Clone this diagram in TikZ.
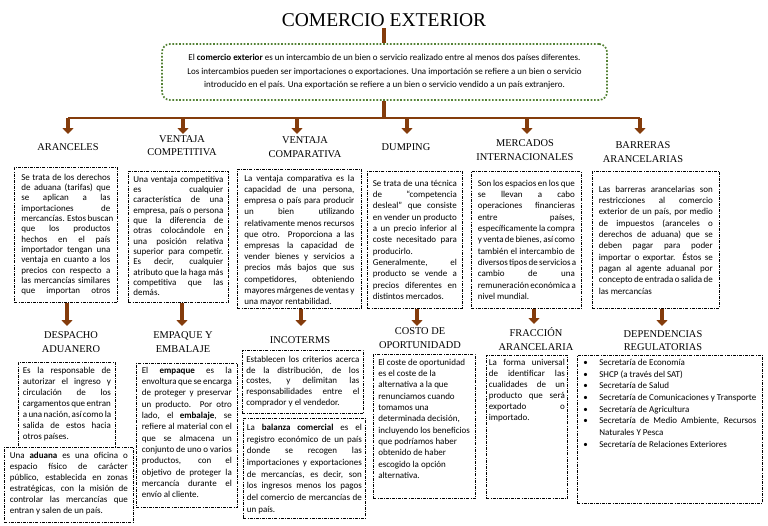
\documentclass[tikz,border=0pt]{standalone}
\usepackage{fontspec}
\setmainfont{Liberation Serif}
\newfontfamily\bodyf{Carlito}
\usetikzlibrary{arrows.meta}
\definecolor{brn}{RGB}{132,60,12}
\definecolor{grn}{RGB}{84,130,53}
\newcommand\jl[1]{\makebox[\linewidth][s]{#1}\\}
\newcommand\bxt[5]{\parbox[t][#1pt][t]{#2pt}{\bodyf\fontsize{9}{#3}\selectfont\vspace*{#4pt}\strut#5}}
\newcommand\bl[1]{\makebox[16pt][l]{•}#1\\}
\tikzset{
  tb/.style={draw=black, line width=0.7pt, dash pattern=on 3pt off 1.2pt on 0.8pt off 1.2pt,
    fill=white, anchor=north west, inner ysep=0pt, inner xsep=#1},
  hd/.style={font=\fontsize{10.4}{13.5}\selectfont, align=center, inner sep=0pt},
  bigarrow/.style={draw=brn, line width=4.6pt, -{Triangle[width=11pt,length=6pt]}},
  bar/.style={draw=brn, line width=4pt},
  hline/.style={draw=brn, line width=2pt},
}
\begin{document}
\begin{tikzpicture}[x=1pt,y=-1pt]
\path[use as bounding box] (0,0) rectangle (768,525);

% title and top box
\node[font=\fontsize{19.5}{22}\selectfont, inner sep=2pt, anchor=base] (title) at (384,26) {COMERCIO EXTERIOR};
\node[draw=grn, line width=1.7pt, dash pattern=on 1.7pt off 1.7pt, rounded corners=8pt,
  minimum width=445pt, minimum height=56pt, align=center, inner sep=0pt,
  font=\bodyf\fontsize{9}{13.5}\selectfont] (top) at (384.5,72)
  {El \textbf{comercio exterior} es un intercambio de un bien o servicio realizado entre al menos dos países diferentes.\\
   Los intercambios pueden ser importaciones o exportaciones. Una importación se refiere a un bien o servicio\\
   introducido en el país. Una exportación se refiere a un bien o servicio vendido a un país extranjero.};

\coordinate (j1) at (68,118);  \coordinate (t1) at (68,134);
\coordinate (j2) at (183,118); \coordinate (t2) at (183,134);
\coordinate (j3) at (297,118); \coordinate (t3) at (297,134);
\coordinate (j4) at (407,118); \coordinate (t4) at (407,134);
\coordinate (j5) at (527,118); \coordinate (t5) at (527,134);
\coordinate (j6) at (640,118); \coordinate (t6) at (640,134);

\draw[bar] (title.south) -- (top.north -| title.south);
\draw[bar] (top.south -| title.south) -- (j1 -| title.south);
\draw[hline] (j1) -- (j6);
\foreach \i in {1,...,6} {\draw[bigarrow] (j\i) -- (t\i);}

% row 1 headers
\node[hd] (h1) at (68,147) {ARANCELES};
\node[hd] (h2) at (182,145.5) {VENTAJA\\COMPETITIVA};
\node[hd] (h3) at (305,147) {VENTAJA\\COMPARATIVA};
\node[hd] (h4) at (406,147) {DUMPING};
\node[hd] (h5) at (525,150) {MERCADOS\\INTERNACIONALES};
\node[hd] (h6) at (643,152) {BARRERAS\\ARANCELARIAS};

% row 1 boxes
\node[tb=7pt] (b1) at (14,167) {\bxt{135}{89}{10.3}{5.8}{%
\jl{Se trata de los derechos}
\jl{de aduana (tarifas) que}
\jl{se aplican a las}
\jl{importaciones de}
\jl{mercancías. Estos buscan}
\jl{que los productos}
\jl{hechos en el país}
\jl{importador tengan una}
\jl{ventaja en cuanto a los}
\jl{precios con respecto a}
\jl{las mercancías similares}
\makebox[\linewidth][s]{que importan otros}}};

\node[tb=5pt] (b2) at (128,171) {\bxt{131}{90}{10.3}{3.8}{%
\jl{Una ventaja competitiva}
\jl{es cualquier}
\jl{característica de una}
\jl{empresa, país o persona}
\jl{que la diferencia de}
\jl{otras colocándole en}
\jl{una posición relativa}
\jl{superior para competir.}
\jl{Es decir, cualquier}
\jl{atributo que la haga más}
\jl{competitiva que las}
demás.}};

\node[tb=7pt] (b3) at (237,169) {\bxt{139}{110}{11.2}{4.2}{%
\jl{La ventaja comparativa es la}
\jl{capacidad de una persona,}
\jl{empresa o país para producir}
\jl{un bien utilizando}
\jl{relativamente menos recursos}
\jl{que otro. Proporciona a las}
\jl{empresas la capacidad de}
\jl{vender bienes y servicios a}
\jl{precios más bajos que sus}
\jl{competidores, obteniendo}
\jl{mayores márgenes de ventas y}
una mayor rentabilidad.}};

\node[tb=5.5pt] (b4) at (367,171) {\bxt{137}{84}{11.3}{7.1}{%
\jl{Se trata de una técnica}
\jl{de “competencia}
\jl{desleal” que consiste}
\jl{en vender un producto}
\jl{a un precio inferior al}
\jl{coste necesitado para}
producirlo.\\
\jl{Generalmente, el}
\jl{producto se vende a}
\jl{precios diferentes en}
distintos mercados.}};

\node[tb=6.5pt] (b5) at (471,171) {\bxt{137}{97}{11.3}{7.1}{%
\jl{Son los espacios en los que}
\jl{se llevan a cabo}
\jl{operaciones financieras}
\jl{entre países,}
\jl{específicamente la compra}
\jl{y venta de bienes, así como}
\jl{también el intercambio de}
\jl{diversos tipos de servicios a}
\jl{cambio de una}
\jl{remuneración económica a}
nivel mundial.}};

\node[tb=6.5pt] (b6) at (592,171) {\bxt{137}{114}{11.3}{13.1}{%
\jl{Las barreras arancelarias son}
\jl{restricciones al comercio}
\jl{exterior de un país, por medio}
\jl{de impuestos (aranceles o}
\jl{derechos de aduana) que se}
\jl{deben pagar para poder}
\jl{importar o exportar. Éstos se}
\jl{pagan al agente aduanal por}
\jl{concepto de entrada o salida de}
las mercancías}};

% row 2 arrows
\coordinate (u1) at (67,326);
\coordinate (u2) at (182,326);
\coordinate (u3) at (301,326);
\coordinate (u4) at (417,326);
\coordinate (u5) at (534,324);
\coordinate (u6) at (662,326);
\foreach \i in {1,...,6} {\draw[bigarrow] (b\i.south -| u\i) -- (u\i);}

% row 2 headers
\node[hd] (h7) at (71,342) {DESPACHO\\ADUANERO};
\node[hd] (h8) at (183,342) {EMPAQUE Y\\EMBALAJE};
\node[hd] (h9) at (300,340) {INCOTERMS};
\node[hd] (h10) at (420,338) {COSTO DE\\OPORTUNIDADD};
\node[hd] (h11) at (536,339) {FRACCIÓN\\ARANCELARIA};
\node[hd] (h12) at (663,340.5) {DEPENDENCIAS\\REGULATORIAS};

% row 2 boxes
\node[tb=4.5pt] (b7) at (18,362) {\bxt{85}{88}{11}{3.3}{%
\jl{Es la responsable de}
\jl{autorizar el ingreso y}
\jl{circulación de los}
\jl{cargamentos que entran}
\jl{a una nación, así como la}
\jl{salida de estos hacia}
otros países.}};

\node[tb=5.5pt] (b8) at (4,447) {\bxt{75}{118}{11.1}{3.2}{%
\jl{Una \textbf{aduana} es una oficina o}
\jl{espacio físico de carácter}
\jl{público, establecida en zonas}
\jl{estratégicas, con la misión de}
\jl{controlar las mercancías que}
entran y salen de un país.}};

\node[tb=5.5pt] (b9) at (136,363) {\bxt{144}{90}{11.3}{2.1}{%
\jl{El \textbf{empaque} es la}
\jl{envoltura que se encarga}
\jl{de proteger y preservar}
\jl{un producto. Por otro}
\jl{lado, el \textbf{embalaje}, se}
\jl{refiere al material con el}
\jl{que se almacena un}
\jl{conjunto de uno o varios}
\jl{productos, con el}
\jl{objetivo de proteger la}
\jl{mercancía durante el}
envío al cliente.}};

\node[tb=4pt] (b10) at (242,350) {\bxt{63}{113}{10.8}{4.4}{%
\jl{Establecen los criterios acerca}
\jl{de la distribución, de los}
\jl{costes, y delimitan las}
\jl{responsabilidades entre el}
comprador y el vendedor.}};

\node[tb=3.5pt] (b11) at (243,418) {\bxt{100}{115}{11.7}{3.8}{%
\jl{La \textbf{balanza comercial} es el}
\jl{registro económico de un país}
\jl{donde se recogen las}
\jl{importaciones y exportaciones}
\jl{de mercancías, es decir, son}
\jl{los ingresos menos los pagos}
\jl{del comercio de mercancías de}
un país.}};

\node[tb=5pt] (b12) at (373,354) {\bxt{144}{92}{11.3}{3.1}{%
El coste de oportunidad\\
es el coste de la\\
alternativa a la que\\
renunciamos cuando\\
tomamos una\\
determinada decisión,\\
incluyendo los beneficios\\
que podríamos haber\\
obtenido de haber\\
escogido la opción\\
alternativa.}};

\node[tb=2.5pt] (b13) at (486,355) {\bxt{143}{76}{11}{2.3}{%
\jl{La forma universal}
\jl{de identificar las}
\jl{cualidades de un}
\jl{producto que será}
\jl{exportado o}
importado.}};

\node[tb=6pt] (b14) at (577,355) {\bxt{148}{173}{11.7}{1.8}{%
\bl{Secretaría de Economía}
\bl{SHCP (a través del SAT)}
\bl{Secretaría de Salud}
\bl{Secretaría de Comunicaciones y Transporte}
\bl{Secretaría de Agricultura}
\makebox[16pt][l]{•}\makebox[157pt][s]{Secretaría de Medio Ambiente, Recursos}\\
\hspace*{16pt}Naturales Y Pesca\\
\makebox[16pt][l]{•}Secretaría de Relaciones Exteriores}};
\end{tikzpicture}
\end{document}
